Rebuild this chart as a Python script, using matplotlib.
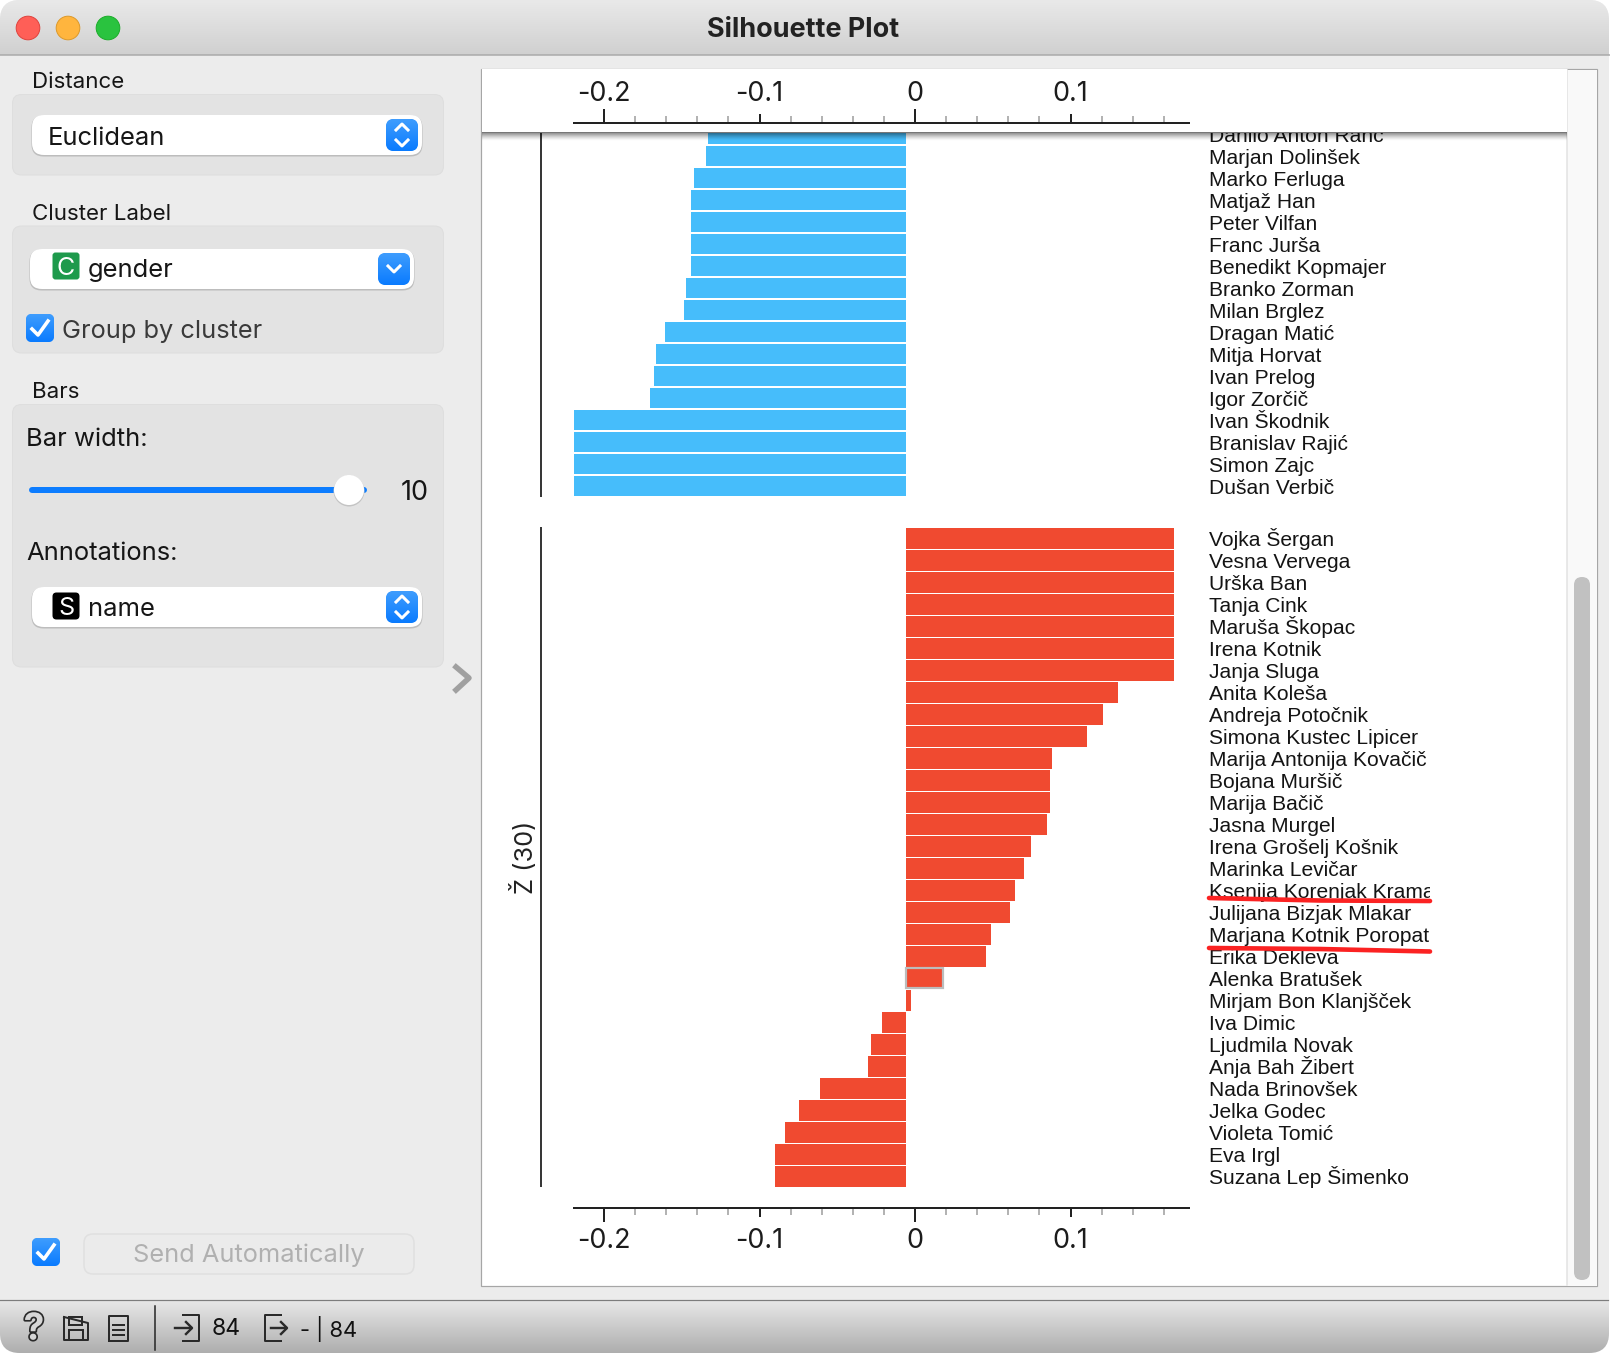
import numpy as np
import matplotlib
matplotlib.use("Agg")
import matplotlib.pyplot as plt
import matplotlib.patheffects as pe
from matplotlib.patches import FancyBboxPatch, Circle, Rectangle
from matplotlib.colors import LinearSegmentedColormap

# ================================
# DATA
# ================================
BLUE_NAMES = ["Danilo Anton Ranc", "Marjan Dolinšek", "Marko Ferluga", "Matjaž Han", "Peter Vilfan",
              "Franc Jurša", "Benedikt Kopmajer", "Branko Zorman", "Milan Brglez", "Dragan Matić",
              "Mitja Horvat", "Ivan Prelog", "Igor Zorčič", "Ivan Škodnik", "Branislav Rajić",
              "Simon Zajc", "Dušan Verbič"]
BLUE_VALUES = [-0.1274, -0.1287, -0.136, -0.138, -0.138, -0.138, -0.138, -0.1413, -0.1426, -0.1545,
               -0.1604, -0.1617, -0.1644, -0.2132, -0.2132, -0.2132, -0.2132]

RED_NAMES = ["Vojka Šergan", "Vesna Vervega", "Urška Ban", "Tanja Cink", "Maruša Škopac", "Irena Kotnik",
             "Janja Sluga", "Anita Koleša", "Andreja Potočnik", "Simona Kustec Lipicer",
             "Marija Antonija Kovačič", "Bojana Muršič", "Marija Bačič", "Jasna Murgel",
             "Irena Grošelj Košnik", "Marinka Levičar", "Ksenija Korenjak Kramar", "Julijana Bizjak Mlakar",
             "Marjana Kotnik Poropat", "Erika Dekleva", "Alenka Bratušek", "Mirjam Bon Klanjšček",
             "Iva Dimic", "Ljudmila Novak", "Anja Bah Žibert", "Nada Brinovšek", "Jelka Godec",
             "Violeta Tomić", "Eva Irgl", "Suzana Lep Šimenko"]
RED_VALUES = [0.1723, 0.1723, 0.1723, 0.1723, 0.1723, 0.1723, 0.1723, 0.1366, 0.1267, 0.1168,
              0.0944, 0.0931, 0.0931, 0.0911, 0.0805, 0.0759, 0.0706, 0.0673, 0.0548, 0.0515,
              0.0238, 0.0033, -0.0152, -0.0224, -0.0244, -0.0548, -0.0686, -0.0779, -0.0838, -0.0838]

MAJOR_TICKS = [-0.2, -0.1, 0, 0.1]
MAJOR_LABELS = ["-0.2", "-0.1", "0", "0.1"]
MINOR_TICKS = [-0.18, -0.16, -0.14, -0.12, -0.08, -0.06, -0.04, -0.02, 0.02, 0.04, 0.06, 0.08, 0.12, 0.14, 0.16]
SELECTED = "Alenka Bratušek"
CLUSTER_LABEL = "Ž (30)"

# ================================
# CONFIGS
# ================================
W, H = 1610, 1354
DPI = 100
PX = 72 / DPI  # one pixel in points
ROW = 22
ROW0_TOP = 123  # pixel y of the top of the first (scrolled away) row
BAR_BASE = -0.006  # bars start a little left of the axis zero in the widget
GROUP_GAP = 1.38
BLUE = "#46bdfb"
RED = "#f04a30"
FONT = ["Inter", "DejaVu Sans"]
NAME_FONT = ["Liberation Sans", "DejaVu Sans"]
plt.rcParams["font.family"] = FONT


def to_val(px):
    return (px - 915) / 1555


def rect_for(x0, y0, x1, y1):
    return [x0 / W, 1 - y1 / H, (x1 - x0) / W, (y1 - y0) / H]


def px_axes(z):
    a = fig.add_axes([0, 0, 1, 1], zorder=z)
    a.set_xlim(0, W)
    a.set_ylim(H, 0)
    a.axis("off")
    a.patch.set_alpha(0)
    return a


def rrect(a, x0, y0, x1, y1, r, fc, ec="none", lw=0, z=2):
    p = FancyBboxPatch((x0, y0), x1 - x0, y1 - y0, boxstyle=f"round,pad=0,rounding_size={r}",
                       fc=fc, ec=ec, lw=lw * PX, zorder=z)
    a.add_patch(p)
    return p


def gradient(a, x0, y0, x1, y1, c0, c1, z=1, clip=None):
    cmap = LinearSegmentedColormap.from_list("g", [c0, c1])
    im = a.imshow(np.linspace(0, 1, 64)[:, None], cmap=cmap, extent=(x0, x1, y1, y0), aspect="auto",
                  zorder=z, interpolation="bilinear")
    a.set_xlim(0, W)
    a.set_ylim(H, 0)
    if clip is not None:
        im.set_clip_path(clip)
    return im


def label(a, x, y, s, size, color="#161616", ha="left", **kw):
    # va center sits a bit high for this font
    return a.text(x, y + 2.5, s, fontsize=size * PX, color=color, ha=ha, va="center", zorder=6, **kw)


def blue_button(a, x0, y0, x1, y1, updown=True):
    p = rrect(a, x0, y0, x1, y1, 8, "#1f8cff", z=4)
    gradient(a, x0, y0, x1, y1, "#3f9dfd", "#0a7bff", z=4, clip=p)
    cx = (x0 + x1) / 2
    cy = (y0 + y1) / 2
    if updown:
        a.plot([cx - 6, cx, cx + 6], [cy - 5, cy - 11, cy - 5], color="white", lw=3 * PX, zorder=5)
        a.plot([cx - 6, cx, cx + 6], [cy + 5, cy + 11, cy + 5], color="white", lw=3 * PX, zorder=5)
    else:
        a.plot([cx - 6, cx, cx + 6], [cy - 3, cy + 3, cy - 3], color="white", lw=3 * PX, zorder=5)


def combo(a, x0, y0, x1, y1):
    rrect(a, x0 - 0.5, y0 + 0.5, x1 + 0.5, y1 + 1.5, 12, "#bdbdbd", z=3)
    rrect(a, x0, y0, x1, y1, 12, "white", z=3)


def checkbox(a, x0, y0):
    p = rrect(a, x0, y0, x0 + 28, y0 + 28, 6, "#1f8cff", z=4)
    gradient(a, x0, y0, x0 + 28, y0 + 28, "#3f9dfd", "#0a7bff", z=4, clip=p)
    a.plot([x0 + 6, x0 + 12, x0 + 22], [y0 + 15, y0 + 21, y0 + 7], color="white", lw=3.6 * PX, zorder=5)


fig = plt.figure(figsize=(W / DPI, H / DPI), dpi=DPI, facecolor="white")

# ================================
# WINDOW CHROME
# ================================
ui = px_axes(0)
win = rrect(ui, 0, 0, W - 1, H - 1, 20, "#ececec", z=0)
gradient(ui, 0, 0, W, 55, "#e9e9e9", "#d0d0d0", z=1, clip=win)
ui.plot([0, W], [55, 55], color="#a9a9a9", lw=1.5 * PX, zorder=2)
gradient(ui, 0, 1300, W, H, "#e8e8e8", "#adadad", z=1, clip=win)
ui.plot([0, W - 2], [1300, 1300], color="#7d7d7d", lw=1.2 * PX, zorder=2)
for cx, fc, ec in [(28, "#ff5f57", "#e0443e"), (68, "#ffb53e", "#dd9a2c"), (108, "#2ac33f", "#1dad2b")]:
    ui.add_patch(Circle((cx, 28), 11.8, fc=fc, ec=ec, lw=PX, zorder=3))
label(ui, 803, 27.5, "Silhouette Plot", 27, "#222222", ha="center", fontweight="bold")

# left panels
for y0, y1 in [(94.5, 175), (226, 353), (404.5, 667)]:
    rrect(ui, 12.5, y0, 443.5, y1, 9, "#e3e3e3", ec="#dedede", lw=1)
label(ui, 31.5, 80, "Distance", 22.3)
label(ui, 31.5, 212, "Cluster Label", 22.3)
label(ui, 31.5, 390, "Bars", 22.3)

combo(ui, 32, 115, 422, 155)
label(ui, 48, 136, "Euclidean", 25.6)
blue_button(ui, 386, 119, 418, 151)

combo(ui, 30, 249, 414, 289)
rrect(ui, 52.5, 252.5, 79.5, 279.5, 3, "#1e9a4c", z=4)
label(ui, 66, 266, "C", 25, "white", ha="center")
label(ui, 88, 268, "gender", 25.6)
blue_button(ui, 378, 253, 410, 285, updown=False)

checkbox(ui, 26, 314)
label(ui, 62, 329, "Group by cluster", 25.4, "#3a3a3a")

label(ui, 26, 437, "Bar width:", 25.6)
ui.plot([32, 364], [490, 490], color="#0d7dff", lw=6 * PX, solid_capstyle="round", zorder=3)
ui.add_patch(Circle((349, 491), 15.5, fc="#c4c4c4", ec="none", zorder=4))
ui.add_patch(Circle((349, 490), 15, fc="white", ec="none", zorder=4))
label(ui, 414.5, 490.5, "10", 27, ha="center")
label(ui, 26, 551, "Annotations:", 25.6)

combo(ui, 32, 587, 422, 627)
rrect(ui, 52.5, 592.5, 79.5, 619.5, 4, "#000000", z=4)
label(ui, 66, 606, "S", 25, "white", ha="center")
label(ui, 88, 607.5, "name", 25.6)
blue_button(ui, 386, 591, 418, 623)

ui.plot([456, 469, 456], [667, 678, 690], color="#a0a0a0", lw=5.5 * PX, zorder=3)

checkbox(ui, 32, 1238)
rrect(ui, 84, 1234, 414, 1274, 9, "#ebebeb", ec="#e0e0e0", lw=1.5)
label(ui, 248.5, 1253, "Send Automatically", 25.4, "#b0b0b0", ha="center")

# status bar icons
ICON = "#2a2a2a"
q = label(ui, 34, 1327, "?", 37, "#d6d6d6", ha="center", fontweight="bold")
q.set_path_effects([pe.withStroke(linewidth=3.4 * PX, foreground=ICON)])
ui.plot([64, 64, 82, 88, 88, 64], [1317, 1340, 1340, 1340, 1323, 1317], color=ICON, lw=2 * PX, zorder=3)
ui.add_patch(Rectangle((69, 1317), 13, 8, fc="none", ec=ICON, lw=2 * PX, zorder=3))
ui.add_patch(Rectangle((69, 1330), 14, 10, fc="none", ec=ICON, lw=2 * PX, zorder=3))
ui.plot([109, 109, 128, 128, 121, 109], [1341, 1316, 1316, 1341, 1341, 1341], color=ICON, lw=2 * PX, zorder=3)
for yy in [1325, 1330, 1335]:
    ui.plot([113, 124], [yy, yy], color=ICON, lw=2 * PX, zorder=3)
ui.plot([154.5, 154.5], [1306, 1350], color="#222222", lw=1.5 * PX, zorder=3)
ui.plot([183, 199, 199, 183], [1315, 1315, 1341, 1341], color=ICON, lw=2 * PX, zorder=3)
ui.plot([175, 191], [1328, 1328], color=ICON, lw=2.4 * PX, zorder=3)
ui.plot([186, 192, 186], [1322, 1328, 1334], color=ICON, lw=2.4 * PX, zorder=3)
label(ui, 226, 1326.5, "84", 23, "#111111", ha="center")
ui.plot([281, 265, 265, 281], [1315, 1315, 1341, 1341], color=ICON, lw=2 * PX, zorder=3)
ui.plot([271, 286], [1328, 1328], color=ICON, lw=2.4 * PX, zorder=3)
ui.plot([281, 287, 281], [1322, 1328, 1334], color=ICON, lw=2.4 * PX, zorder=3)
label(ui, 299.5, 1326.5, "- | 84", 22, "#111111")

# plot frame
ui.add_patch(Rectangle((480.5, 68.5), 1116, 1217.5, fc="white", ec="#a6a6a6", lw=1.2 * PX, zorder=1))
ui.add_patch(Rectangle((1566.5, 69.5), 30, 1216, fc="#f9f9f9", ec="none", zorder=2))
ui.plot([1566.5, 1566.5], [69, 1285], color="#e2e2e2", lw=1.5 * PX, zorder=2)
rrect(ui, 1574, 577, 1590, 1280, 8, "#c1c1c1", z=3)

# ================================
# BARS
# ================================
ax = fig.add_axes(rect_for(481, 132, 1430, 1286), zorder=1)
ax.patch.set_alpha(0)
ax.axis("off")
ax.set_xlim(to_val(481), to_val(1430))
ax.set_ylim((1286 - ROW0_TOP) / ROW, (132 - ROW0_TOP) / ROW)

blue_y = np.arange(len(BLUE_VALUES)) + 0.5
red_y = len(BLUE_VALUES) + GROUP_GAP + np.arange(len(RED_VALUES)) + 0.5
ax.barh(blue_y, BLUE_VALUES, left=BAR_BASE, height=0.94, color=BLUE)
ax.barh(red_y, RED_VALUES, left=BAR_BASE, height=0.94, color=RED)
sel = RED_NAMES.index(SELECTED)
ax.barh(red_y[sel], RED_VALUES[sel], left=BAR_BASE, height=0.9, color=RED, edgecolor="#bcbcbc", lw=2.2 * PX)

for ys, names in [(blue_y, BLUE_NAMES), (red_y, RED_NAMES)]:
    for y, name in zip(ys, names):
        ax.text(to_val(1208.5), y + 0.37, name, fontsize=21 * PX, family=NAME_FONT, color="#141414",
                va="baseline", ha="left", clip_on=True)

line_x = to_val(541)
ax.plot([line_x, line_x], [0, blue_y[-1] + 0.5], color="#222222", lw=1.8 * PX, solid_capstyle="butt")
ax.plot([line_x, line_x], [red_y[0] - 0.5, red_y[-1] + 0.5], color="#222222", lw=1.8 * PX, solid_capstyle="butt")
ax.text(to_val(524), (red_y[0] + red_y[-1]) / 2, CLUSTER_LABEL, rotation=90, fontsize=25.5 * PX, color="#222222",
        ha="center", va="center")

# ================================
# HEADER + AXES
# ================================
top = px_axes(2)
top.add_patch(Rectangle((481.5, 69), 1085, 63, fc="white", ec="none", zorder=1))
shadow = np.zeros((32, 1, 4))
shadow[:, 0, 3] = np.linspace(0.62, 0, 32) ** 1.4
top.imshow(shadow, extent=(482, 1566.5, 141, 132), aspect="auto", zorder=1, interpolation="bilinear")
top.set_xlim(0, W)
top.set_ylim(H, 0)
top.plot([482, 1566], [132, 132], color="#777777", lw=1 * PX, zorder=2)
# hand drawn underlines over the two names
top.plot([1209, 1320, 1430], [898, 900.5, 901], color="#fb2222", lw=4.6 * PX, solid_capstyle="round", zorder=5)
top.plot([1209, 1320, 1430], [948, 949, 951.5], color="#fb2222", lw=4.6 * PX, solid_capstyle="round", zorder=5)


def tick_axis(y, side, pad):
    a = fig.add_axes(rect_for(573.5, y, 1188.5, y + 0.01), zorder=3)
    a.patch.set_alpha(0)
    a.set_xlim(to_val(573.5), to_val(1188.5))
    a.set_yticks([])
    for s in a.spines:
        a.spines[s].set_visible(s == side)
    a.spines[side].set_linewidth(2 * PX)
    a.spines[side].set_color("#222222")
    a.xaxis.set_ticks_position(side)
    a.set_xticks(MAJOR_TICKS, MAJOR_LABELS)
    a.set_xticks(MINOR_TICKS, minor=True)
    a.tick_params(axis="x", which="major", length=14 * PX, width=2 * PX, color="#222222", labelsize=27 * PX,
                  labelcolor="#1c1c1c", pad=pad * PX)
    a.tick_params(axis="x", which="minor", length=7 * PX, width=1.8 * PX, color="#ababab")
    for t, v in zip(a.xaxis.get_major_ticks(), MAJOR_TICKS):
        if abs(v) == 0.1:
            (t.tick1line if side == "bottom" else t.tick2line).set_markersize(9 * PX)
    return a


tick_axis(123, "top", 2)
tick_axis(1208, "bottom", 6)

fig.savefig("out.png", dpi=DPI)
